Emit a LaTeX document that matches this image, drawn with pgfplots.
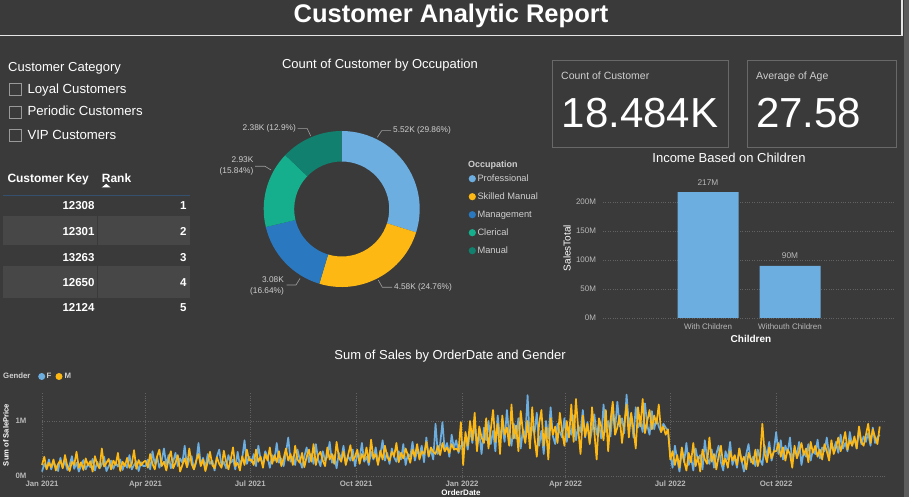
\documentclass[border=0pt]{standalone}
\usepackage{pgfplots}
\pgfplotsset{compat=1.18}
\usepackage{pgfplotstable}
\usepackage{fontspec}
\setmainfont{Liberation Sans}
\definecolor{bg}{HTML}{3A3A3A}
\definecolor{lblue}{HTML}{6CAEE0}
\definecolor{yel}{HTML}{FDB813}
\definecolor{mblue}{HTML}{2A78BF}
\definecolor{tealA}{HTML}{15AF8E}
\definecolor{tealB}{HTML}{11806E}
\definecolor{lgray}{HTML}{CFCFCF}
\definecolor{tgray}{HTML}{B8B8B8}
\definecolor{cardb}{HTML}{686868}
\definecolor{band}{HTML}{474747}
\definecolor{hdrline}{HTML}{34506E}
\definecolor{gridc}{HTML}{626262}
\definecolor{scrollc}{HTML}{5C5C5C}
\newcommand{\fs}[1]{\fontsize{#1}{#1}\selectfont}

% daily sales (every 2nd day), units of 10k
\pgfplotstableread[header=false,row sep=\\]{
8\\22\\14\\30\\12\\25\\18\\9\\33\\15\\27\\11\\20\\36\\13\\24\\8\\19\\29\\12\\22\\16\\31\\10\\26\\14\\21\\35\\9\\18\\28\\13\\24\\17\\30\\11\\23\\15\\38\\12\\20\\27\\9\\25\\18\\
18\\30\\12\\45\\22\\35\\15\\28\\50\\20\\38\\14\\26\\42\\18\\32\\24\\55\\16\\29\\36\\12\\25\\60\\20\\33\\15\\40\\22\\28\\10\\35\\48\\18\\26\\14\\38\\24\\30\\12\\44\\20\\32\\65\\22\\35\\
25\\40\\18\\55\\30\\22\\45\\35\\15\\38\\28\\60\\24\\32\\18\\42\\70\\26\\35\\20\\48\\30\\15\\36\\52\\25\\40\\22\\58\\30\\18\\45\\28\\35\\62\\24\\38\\14\\42\\30\\55\\22\\36\\28\\48\\18\\40\\32\\60\\26\\35\\20\\44\\30\\52\\24\\38\\65\\28\\42\\22\\50\\34\\26\\45\\30\\58\\20\\40\\35\\62\\28\\46\\38\\55\\25\\70\\35\\48\\30\\95\\40\\58\\98\\45\\60\\35\\75\\50\\65\\42\\55\\
55\\70\\48\\85\\60\\95\\52\\78\\40\\88\\65\\100\\58\\82\\45\\110\\70\\90\\62\\120\\75\\55\\95\\68\\105\\50\\85\\72\\147\\60\\90\\78\\115\\55\\82\\40\\100\\68\\125\\72\\58\\95\\80\\70\\105\\62\\88\\75\\110\\65\\92\\80\\120\\70\\98\\60\\85\\112\\75\\95\\68\\130\\80\\100\\72\\118\\85\\135\\90\\105\\78\\148\\95\\110\\70\\125\\88\\100\\80\\132\\92\\75\\118\\85\\105\\90\\80\\95\\88\\82\\
40\\15\\55\\30\\8\\45\\25\\60\\20\\35\\10\\50\\28\\38\\12\\65\\32\\22\\48\\15\\40\\55\\25\\10\\45\\30\\62\\20\\35\\15\\50\\28\\8\\40\\58\\25\\35\\18\\48\\30\\20\\55\\35\\62\\28\\45\\
80\\40\\65\\30\\55\\42\\70\\25\\50\\38\\62\\20\\45\\35\\58\\28\\48\\40\\66\\32\\52\\45\\70\\38\\55\\48\\62\\42\\75\\50\\60\\45\\80\\55\\68\\50\\85\\58\\72\\62\\78\\55\\88\\60\\70\\75\\
}\Fdata
\pgfplotstableread[header=false,row sep=\\]{
20\\35\\12\\24\\16\\30\\10\\22\\28\\14\\38\\18\\9\\26\\20\\44\\15\\25\\11\\32\\19\\27\\8\\36\\21\\14\\50\\17\\24\\31\\12\\28\\20\\42\\9\\26\\18\\33\\15\\22\\47\\13\\29\\19\\25\\
28\\15\\40\\22\\12\\35\\48\\18\\26\\10\\30\\45\\14\\24\\38\\8\\20\\32\\16\\50\\22\\12\\28\\40\\18\\30\\9\\25\\44\\20\\14\\34\\22\\15\\46\\26\\12\\30\\52\\18\\24\\10\\36\\20\\48\\28\\
30\\20\\48\\26\\35\\15\\40\\28\\52\\22\\38\\25\\45\\18\\32\\50\\28\\40\\20\\55\\30\\24\\42\\16\\35\\48\\26\\58\\20\\38\\44\\28\\18\\52\\30\\40\\22\\62\\34\\26\\45\\20\\38\\56\\28\\35\\48\\22\\40\\30\\52\\25\\66\\32\\40\\20\\46\\30\\55\\35\\28\\44\\36\\60\\25\\42\\32\\50\\38\\24\\48\\35\\58\\30\\45\\40\\62\\36\\52\\44\\40\\55\\38\\60\\45\\52\\42\\58\\48\\50\\45\\98\\
20\\80\\55\\100\\65\\115\\45\\90\\70\\60\\105\\50\\85\\120\\62\\95\\40\\110\\75\\88\\55\\130\\68\\92\\45\\118\\80\\60\\100\\50\\125\\70\\35\\95\\120\\55\\88\\30\\105\\75\\90\\60\\115\\80\\55\\100\\70\\130\\62\\140\\85\\40\\110\\72\\95\\58\\125\\80\\30\\105\\90\\65\\120\\45\\100\\135\\75\\88\\110\\60\\95\\130\\70\\115\\85\\50\\125\\90\\140\\78\\100\\120\\85\\110\\95\\130\\80\\90\\75\\85\\
30\\45\\20\\38\\15\\52\\28\\10\\42\\25\\60\\18\\35\\8\\48\\30\\22\\70\\26\\40\\12\\36\\55\\20\\32\\15\\45\\28\\38\\20\\50\\26\\35\\12\\42\\30\\22\\48\\18\\35\\95\\40\\25\\52\\32\\45\\
45\\60\\35\\52\\28\\48\\40\\15\\55\\32\\45\\60\\38\\50\\25\\62\\42\\55\\35\\48\\30\\58\\45\\28\\65\\40\\52\\70\\45\\60\\80\\48\\65\\55\\72\\50\\90\\62\\55\\75\\95\\60\\85\\70\\58\\90\\
}\Mdata

\begin{document}
\begin{tikzpicture}[x=1pt,y=1pt]
\useasboundingbox (0,0) rectangle (909,497);
\fill[bg] (0,0) rectangle (909,497);
\fill[scrollc] (904,0) rectangle (909,497);

% ---- title bar
\draw[white!90!black, line width=1.3pt] (-2,461.5) -- (902,461.5) -- (902,499);
\node[anchor=base, text=white, font=\fs{25.5}\bfseries, inner sep=0] at (451,474) {Customer Analytic Report};

% ---- slicer
\node[anchor=base west, text=white, font=\fs{13}, inner sep=0] at (8,425) {Customer Category};
\foreach \yy/\tt in {403.7/Loyal Customers, 381/Periodic Customers, 357.7/VIP Customers}{
  \draw[gray!80, line width=0.8pt] (9,\yy-2) rectangle (21,\yy+10);
  \node[anchor=base west, text=white, font=\fs{13.2}, inner sep=0] at (27.3,\yy) {\tt};
}

% ---- table
\fill[band] (3,281) rectangle (96.5,252);
\fill[band] (97.5,281) rectangle (190,252);
\fill[band] (3,231) rectangle (96.5,199);
\fill[band] (97.5,231) rectangle (190,199);
\node[anchor=base west, text=white, font=\fs{12}\bfseries, inner sep=0] at (7.3,314.3) {Customer Key};
\node[anchor=base west, text=white, font=\fs{12}\bfseries, inner sep=0] at (101.7,314.3) {Rank};
\fill[white] (101.7,309.5) -- (110.7,309.5) -- (106.2,313.2) -- cycle;
\draw[hdrline, line width=1pt] (3,301) -- (190,301);
\foreach \yy/\kk/\rr in {287/12308/1, 261/12301/2, 235.7/13263/3, 210.7/12650/4, 185/12124/5}{
  \node[anchor=base east, text=white, font=\fs{11.5}\bfseries, inner sep=0] at (94.7,\yy) {\kk};
  \node[anchor=base east, text=white, font=\fs{11.5}\bfseries, inner sep=0] at (186.7,\yy) {\rr};
}

% ---- donut
\node[anchor=base, text=white, font=\fs{13}, inner sep=0] at (380,428.7) {Count of Customer by Occupation};
\def\cx{341.7}\def\cy{288}\def\Ro{78}\def\Ri{47.5}
\newcommand\seg[3]{\fill[#3] ([shift={(\cx,\cy)}]#1:\Ro) arc[start angle=#1,end angle=#2,radius=\Ro] -- ([shift={(\cx,\cy)}]#2:\Ri) arc[start angle=#2,end angle=#1,radius=\Ri] -- cycle;}
\pgfmathsetmacro\tot{5.52+4.58+3.08+2.93+2.38}
\pgfmathsetmacro\aA{90-360*5.52/\tot}
\pgfmathsetmacro\aB{\aA-360*4.58/\tot}
\pgfmathsetmacro\aC{\aB-360*3.08/\tot}
\pgfmathsetmacro\aD{\aC-360*2.93/\tot}
\seg{90}{\aA}{lblue}
\seg{\aA}{\aB}{yel}
\seg{\aB}{\aC}{mblue}
\seg{\aC}{\aD}{tealA}
\seg{\aD}{-270}{tealB}
\begin{scope}[draw=gray!75, line width=0.6pt]
\draw (377.3,359.7) -- (381.7,366.3) -- (391,366.3);
\draw (378.3,217) -- (382.3,209.7) -- (392,209.7);
\draw (286.5,212) -- (296,212) -- (300,218.5);
\draw (255,330.7) -- (265,330.7) -- (271,327);
\draw (297.5,368.3) -- (307.3,368.3) -- (310.7,361);
\end{scope}
\begin{scope}[every node/.style={text=lgray, font=\fs{8.3}, inner sep=0}]
\node[anchor=west] at (393,366.5) {5.52K (29.86\%)};
\node[anchor=west] at (394,209.5) {4.58K (24.76\%)};
\node[anchor=east] at (284,217) {3.08K};
\node[anchor=east] at (284,206) {(16.64\%)};
\node[anchor=east] at (253.5,337) {2.93K};
\node[anchor=east] at (253.5,326) {(15.84\%)};
\node[anchor=east] at (296,368.3) {2.38K (12.9\%)};
\end{scope}
\node[anchor=base west, text=lgray, font=\fs{9}\bfseries, inner sep=0] at (468,329) {Occupation};
\foreach \i/\c/\t in {0/lblue/Professional, 1/yel/Skilled Manual, 2/mblue/Management, 3/tealA/Clerical, 4/tealB/Manual}{
  \fill[\c] (472.3,318.3-18*\i) circle[radius=3.6];
  \node[anchor=base west, text=lgray, font=\fs{9.3}, inner sep=0] at (477.3,315.3-18*\i) {\t};
}

% ---- KPI cards
\draw[cardb, line width=0.9pt] (552,437) rectangle (728,350);
\draw[cardb, line width=0.9pt] (747,437) rectangle (896,350);
\node[anchor=base west, text=lgray, font=\fs{10.5}, inner sep=0] at (561,417) {Count of Customer};
\node[anchor=base west, text=lgray, font=\fs{10.5}, inner sep=0] at (756,417) {Average of Age};
\node[anchor=base west, text=white, font=\fs{42}, inner sep=0] at (561.5,369.7) {18.484K};
\node[anchor=base west, text=white, font=\fs{42}, inner sep=0] at (756,369.7) {27.58};

% ---- bar chart
\node[anchor=base, text=white, font=\fs{13}, inner sep=0] at (729,334.7) {Income Based on Children};
\node[rotate=90, text=white, font=\fs{10}, inner sep=0] at (567,249) {SalesTotal};
\node[anchor=base, text=white, font=\fs{10}\bfseries, inner sep=0] at (751,154.5) {Children};
\begin{axis}[at={(708pt,179pt)}, anchor=origin, x=82pt, y=0.58pt,
  xmin=-1.28, xmax=2.28, ymin=0, ymax=225,
  ybar, bar width=61pt,
  axis line style={draw=none}, major tick length=0pt,
  xtick={0,1}, xticklabels={With Children,Withouth Children},
  ytick={0,50,100,150,200}, yticklabels={0M,50M,100M,150M,200M},
  ymajorgrids, grid style={dotted, gridc, line width=0.7pt},
  tick label style={font=\fs{8}, text=tgray},
  yticklabel style={xshift=-3.5pt},
  xticklabel style={yshift=-2pt},
  nodes near coords={\pgfmathprintnumber[assume math mode=true]{\pgfplotspointmeta}M},
  nodes near coords style={font=\fs{8.3}, text=tgray, yshift=3.5pt},
  clip=false]
\addplot[fill=lblue, draw=none] coordinates {(0,217) (1,90)};
\end{axis}

% ---- time series
\node[anchor=base, text=white, font=\fs{13}, inner sep=0] at (450,137) {Sum of Sales by OrderDate and Gender};
\node[anchor=base west, text=lgray, font=\fs{7.8}\bfseries, inner sep=0] at (3,118) {Gender};
\fill[lblue] (41.7,120.5) circle[radius=3.5];
\node[anchor=base west, text=lgray, font=\fs{7.8}\bfseries, inner sep=0] at (46.3,118) {F};
\fill[yel] (59,120.5) circle[radius=3.5];
\node[anchor=base west, text=lgray, font=\fs{7.8}\bfseries, inner sep=0] at (64.3,118) {M};
\node[rotate=90, text=white, font=\fs{7.6}\bfseries, inner sep=0] at (6,62) {Sum of SalePrice};
\node[anchor=base, text=white, font=\fs{8}\bfseries, inner sep=0] at (461,1.2) {OrderDate};
\begin{axis}[at={(42pt,21pt)}, anchor=origin, x=1.1507pt, y=0.55pt,
  xmin=0, xmax=734, ymin=-3, ymax=150,
  axis line style={draw=none}, major tick length=0pt,
  xtick={0,90,181,273,365,455,546,638},
  xticklabels={Jan 2021,Apr 2021,Jul 2021,Oct 2021,Jan 2022,Apr 2022,Jul 2022,Oct 2022},
  ytick={0,100}, yticklabels={0M,1M},
  xmajorgrids, ymajorgrids, grid style={dotted, gridc, line width=0.7pt},
  tick label style={font=\fs{7.8}\bfseries, text=tgray},
  yticklabel style={xshift=-12pt},
  clip=false]
\addplot[lblue, line width=1.7pt, line join=round] table[x expr=\coordindex*2, y index=0]{\Fdata};
\addplot[yel, line width=1.7pt, line join=round] table[x expr=\coordindex*2, y index=0]{\Mdata};
\end{axis}
\end{tikzpicture}
\end{document}
